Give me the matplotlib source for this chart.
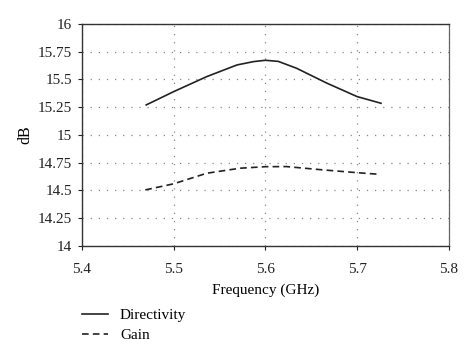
import matplotlib
matplotlib.use("Agg")
import matplotlib.pyplot as plt

# Data
freq_dir = [5.47, 5.5, 5.536, 5.569, 5.587, 5.6, 5.614, 5.634, 5.667, 5.7, 5.726]
directivity = [15.27, 15.39, 15.525, 15.63, 15.66, 15.672, 15.662, 15.60, 15.466, 15.345, 15.285]

freq_gain = [5.469, 5.5, 5.536, 5.572, 5.6, 5.623, 5.663, 5.7, 5.725]
gain = [14.505, 14.56, 14.655, 14.70, 14.714, 14.715, 14.685, 14.66, 14.645]

xticks = [5.4, 5.5, 5.6, 5.7, 5.8]
yticks = [14, 14.25, 14.5, 14.75, 15, 15.25, 15.5, 15.75, 16]
ytick_labels = ["14", "14.25", "14.5", "14.75", "15", "15.25", "15.5", "15.75", "16"]

plt.rcParams["font.family"] = ["Liberation Serif", "DejaVu Serif"]

fig = plt.figure(figsize=(4.74, 3.56), dpi=100)
ax = fig.add_axes([0.173, 0.309, 0.774, 0.624])

ax.plot(freq_dir, directivity, color="#222222", lw=1.2, label="Directivity")
ax.plot(freq_gain, gain, color="#222222", lw=1.2, ls=(0, (4, 2.5)), label="Gain")

ax.set_xlim(5.4, 5.8)
ax.set_ylim(14, 16)
ax.set_xticks(xticks)
ax.set_xticklabels([str(v) for v in xticks])
ax.set_yticks(yticks)
ax.set_yticklabels(ytick_labels)
ax.tick_params(direction="out", length=3, width=0.8, labelsize=11, colors="#222222", pad=4)
ax.tick_params(axis="x", pad=9)
ax.grid(True, color="#888888", ls=(0, (1, 5.5)), lw=0.9)

for side in ["left", "bottom", "top"]:
    ax.spines[side].set_color("#333333")
    ax.spines[side].set_linewidth(1.0)
ax.spines["right"].set_color("#666666")
ax.spines["right"].set_linewidth(0.9)

ax.set_xlabel("Frequency (GHz)", fontsize=11, labelpad=6)
ax.set_ylabel("dB", fontsize=11.5, labelpad=3)

fig.legend(loc="upper left", bbox_to_anchor=(0.145, 0.172), frameon=False,
           fontsize=11, handlelength=1.7, handletextpad=0.75, labelspacing=0.42)

fig.savefig("out.png", dpi=100)
